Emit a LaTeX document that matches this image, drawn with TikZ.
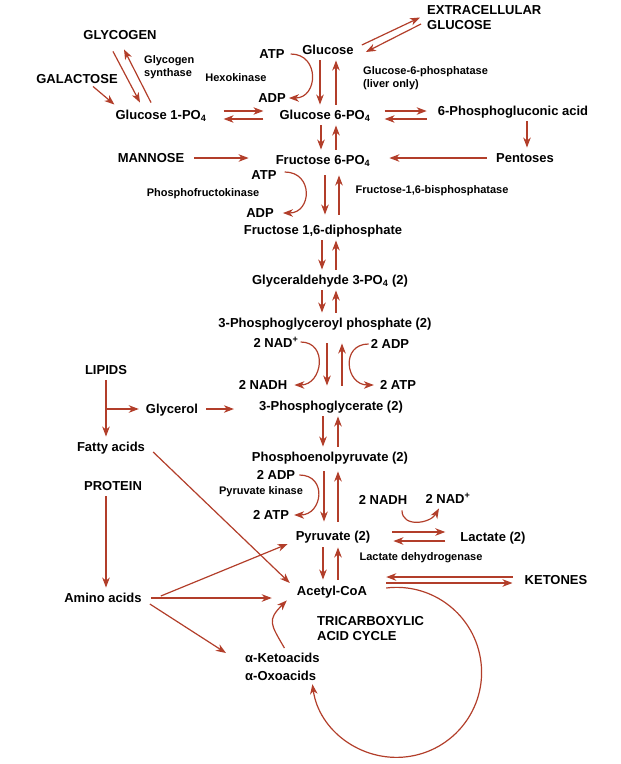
\documentclass[tikz,border=0pt]{standalone}
\usepackage{fontspec}
\setmainfont{Liberation Sans}
\usetikzlibrary{arrows.meta}
\definecolor{pathred}{RGB}{178,62,42}

\begin{document}
\begin{tikzpicture}
            [x=1pt, y=1pt, >={Stealth[length=10pt,width=7.5pt,inset=3pt]},
             met/.style={font=\fontsize{13}{15}\selectfont\bfseries, inner sep=2pt, text height=9.5pt, text depth=1pt},
             block/.style={font=\fontsize{13}{15}\selectfont\bfseries, inner sep=2pt, align=left, anchor=west},
             enz/.style={font=\fontsize{11}{13}\selectfont\bfseries, inner sep=2pt},
             flow/.style={->, draw=pathred, line width=1.2pt},
             vflow/.style={flow, shorten <=#1, shorten >=#1}, vflow/.default=3pt]
            \useasboundingbox (0,0) rectangle (621,-764);

            \node[met] (glycogen) at (120,-35) {GLYCOGEN};
            \node[met] (galactose) at (77,-79) {GALACTOSE};
            \node[met] (g1p) at (161,-115) {Glucose 1-PO\textsubscript{4}};
            \node[enz, align=left, anchor=west] (gsyn) at (142,-67.5) {Glycogen\\synthase};
            \node[enz] (hexo) at (236,-78) {Hexokinase};
            \node[met] (atp1) at (272,-54) {ATP};
            \node[met] (adp1) at (272,-98) {ADP};
            \node[met] (glc) at (328,-50) {Glucose};
            \node[block] (extra) at (425,-17.5) {EXTRACELLULAR\\GLUCOSE};
            \node[enz, align=left, anchor=west] (g6pase) at (361,-78.5) {Glucose-6-phosphatase\\(liver only)};
            \node[met] (g6p) at (325,-115) {Glucose 6-PO\textsubscript{4}};
            \node[met] (pga) at (513,-111) {6-Phosphogluconic acid};
            \node[met] (pent) at (525,-158) {Pentoses};
            \node[met] (mannose) at (151,-158) {MANNOSE};
            \node[met] (f6p) at (323,-160) {Fructose 6-PO\textsubscript{4}};
            \node[met] (atp2) at (264,-175) {ATP};
            \node[enz] (pfk) at (203,-194) {Phosphofructokinase};
            \node[met] (adp2) at (260,-213) {ADP};
            \node[met] (f16p) at (323,-230) {Fructose 1,6-diphosphate};
            \node[enz] (f16pase) at (432,-191) {Fructose-1,6-bisphosphatase};
            \node[met] (gap) at (330,-280) {Glyceraldehyde 3-PO\textsubscript{4} (2)};
            \node[met] (pgp) at (325,-323) {3-Phosphoglyceroyl phosphate (2)};
            \node[met] (nad1) at (276,-343) {2 NAD\textsuperscript{+}};
            \node[met] (adp3) at (390,-344) {2 ADP};
            \node[met] (nadh1) at (263,-385) {2 NADH};
            \node[met] (atp3) at (398,-385) {2 ATP};
            \node[met] (lipids) at (106,-370) {LIPIDS};
            \node[met] (glycerol) at (172,-409) {Glycerol};
            \node[met] (pg) at (331,-406) {3-Phosphoglycerate (2)};
            \node[met] (fatty) at (111,-447) {Fatty acids};
            \node[met] (pep) at (330,-457) {Phosphoenolpyruvate (2)};
            \node[met] (protein) at (113,-486) {PROTEIN};
            \node[met] (adp4) at (276,-475) {2 ADP};
            \node[enz] (pk) at (261,-492) {Pyruvate kinase};
            \node[met] (atp4) at (271,-515) {2 ATP};
            \node[met] (nadh2) at (383,-500) {2 NADH};
            \node[met] (nad2) at (448,-499) {2 NAD\textsuperscript{+}};
            \node[met] (pyr) at (333,-536) {Pyruvate (2)};
            \node[met] (lactate) at (493,-537) {Lactate (2)};
            \node[enz] (ldh) at (421,-558) {Lactate dehydrogenase};
            \node[met] (acoa) at (332,-591) {Acetyl-CoA};
            \node[met] (ketones) at (556,-580) {KETONES};
            \node[met] (amino) at (103,-598) {Amino acids};
            \node[block] (tca) at (315,-628.5) {TRICARBOXYLIC\\ACID CYCLE};
            \node[block] (keto) at (243,-667) {α-Ketoacids\\[3pt]α-Oxoacids};

            \draw[flow] ([xshift=-7pt,yshift=-9pt]glycogen.south) -- ([xshift=-21pt,yshift=5pt]g1p.north);
            \draw[flow] ([xshift=-10pt,yshift=5pt]g1p.north) -- ([xshift=4pt,yshift=-7pt]glycogen.south);
            \draw[flow] ([xshift=16pt]galactose.south) -- ([xshift=1pt,yshift=3pt]g1p.north west);
            \draw[flow] ([xshift=15pt,yshift=4pt]g1p.east) -- ([xshift=-14pt,yshift=4pt]g6p.west);
            \draw[flow] ([xshift=-14pt,yshift=-4pt]g6p.west) -- ([xshift=15pt,yshift=-4pt]g1p.east);
            \draw[flow] ([xshift=4pt]atp1.east) to[out=0, in=0, looseness=1.7] ([xshift=1pt]adp1.east);
            \draw[flow] ([xshift=6pt,yshift=5pt]glc.east) -- ([xshift=-5pt]extra.west);
            \draw[flow] ([xshift=-4pt,yshift=-6.5pt]extra.west) -- ([xshift=10pt,yshift=-2pt]glc.east);

            \draw[vflow] (glc.south -| 320,0) -- (g6p.north -| 320,0);
            \draw[vflow] (g6p.north -| 336,0) -- (glc.south -| 336,0);
            \draw[vflow] (g6p.south -| 321,0) -- (f6p.north -| 321,0);
            \draw[vflow] (f6p.north -| 336,0) -- (g6p.south -| 336,0);
            \draw[vflow=8pt] (f6p.south -| 325,0) -- (f16p.north -| 325,0);
            \draw[vflow=8pt] (f16p.north -| 339,0) -- (f6p.south -| 339,0);
            \draw[vflow] (f16p.south -| 322,0) -- (gap.north -| 322,0);
            \draw[vflow] (gap.north -| 336,0) -- (f16p.south -| 336,0);
            \draw[vflow] (gap.south -| 322,0) -- (pgp.north -| 322,0);
            \draw[vflow] (pgp.north -| 336,0) -- (gap.south -| 336,0);
            \draw[vflow=13pt] (pgp.south -| 327,0) -- (pg.north -| 327,0);
            \draw[vflow=13pt] (pg.north -| 342,0) -- (pgp.south -| 342,0);
            \draw[vflow] (pg.south -| 323,0) -- (pep.north -| 323,0);
            \draw[vflow] (pep.north -| 338,0) -- (pg.south -| 338,0);
            \draw[vflow=7pt] (pep.south -| 324,0) -- (pyr.north -| 324,0);
            \draw[vflow=7pt] (pyr.north -| 338,0) -- (pep.south -| 338,0);
            \draw[vflow=4pt] (pyr.south -| 323,0) -- (acoa.north -| 323,0);
            \draw[vflow=4pt] (acoa.north -| 338,0) -- (pyr.south -| 338,0);

            \draw[flow] ([xshift=12pt,yshift=4pt]g6p.east) -- ([xshift=-9pt]pga.west);
            \draw[flow] ([xshift=-9pt,yshift=-8pt]pga.west) -- ([xshift=12pt,yshift=-4pt]g6p.east);
            \draw[vflow] (pga.south -| 527,0) -- (pent.north -| 527,0);
            \draw[flow] ([xshift=-7pt]pent.west) -- ([xshift=17pt,yshift=2pt]f6p.east);
            \draw[flow] ([xshift=8pt]mannose.east) -- ([xshift=-25pt]mannose.east -| f6p.west);
            \draw[flow] ([xshift=6pt,yshift=3pt]atp2.east) to[out=0, in=0, looseness=1.8] ([xshift=7pt]adp2.east);

            \draw[flow] ([yshift=1pt]nad1.east) to[out=0, in=0, looseness=1.65] ([xshift=5pt]nadh1.east);
            \draw[flow] (adp3.west) to[out=180, in=180, looseness=1.75] ([xshift=-4pt]atp3.west);
            \draw[vflow] (lipids.south) -- (fatty.north -| lipids.south);
            \draw[flow] (lipids.south |- glycerol.west) -- ([xshift=-5pt]glycerol.west);
            \draw[flow] ([xshift=6pt]glycerol.east) -- ([xshift=-23pt]glycerol.east -| pg.west);
            \draw[flow] ([xshift=6pt,yshift=-5pt]fatty.east) -- ([xshift=-5pt,yshift=8pt]acoa.west);

            \draw[flow] ([xshift=2pt]adp4.east) to[out=0, in=0, looseness=1.8] ([xshift=3pt]atp4.east);
            \draw[flow] ([xshift=19pt,yshift=-3pt]nadh2.south) to[out=-90, in=-120, looseness=1.2] ([xshift=-9pt,yshift=-2pt]nad2.south);
            \draw[flow] ([xshift=20pt,yshift=4pt]pyr.east) -- ([xshift=-13pt,yshift=5pt]lactate.west);
            \draw[flow] ([xshift=-13pt,yshift=-4pt]lactate.west) -- ([xshift=21pt,yshift=-5pt]pyr.east);
            \draw[flow] ([xshift=-10pt,yshift=3pt]ketones.west) -- ([xshift=17pt,yshift=14pt]acoa.east);
            \draw[flow] ([xshift=17pt,yshift=8pt]acoa.east) -- ([xshift=-10pt,yshift=-3pt]ketones.west);

            \draw[vflow] (protein.south -| 106,0) -- (amino.north -| 106,0);
            \draw[flow] ([xshift=17pt,yshift=2pt]amino.east) -- ([xshift=-6pt,yshift=-8pt]pyr.west);
            \draw[flow] ([xshift=7pt]amino.east) -- ([xshift=-23pt]amino.east -| acoa.west);
            \draw[flow] ([xshift=6pt,yshift=-6pt]amino.east) -- ([xshift=-17pt,yshift=14pt]keto.west);
            \draw[flow] ([xshift=2pt,yshift=3pt]keto.north) to[out=120, in=-135, looseness=1.5] ([xshift=-8pt,yshift=-2pt]acoa.south west);
            \draw[flow] ([xshift=17pt,yshift=3pt]acoa.east) arc[start angle=97, end angle=-172, radius=85];
        \end{tikzpicture}
\end{document}
